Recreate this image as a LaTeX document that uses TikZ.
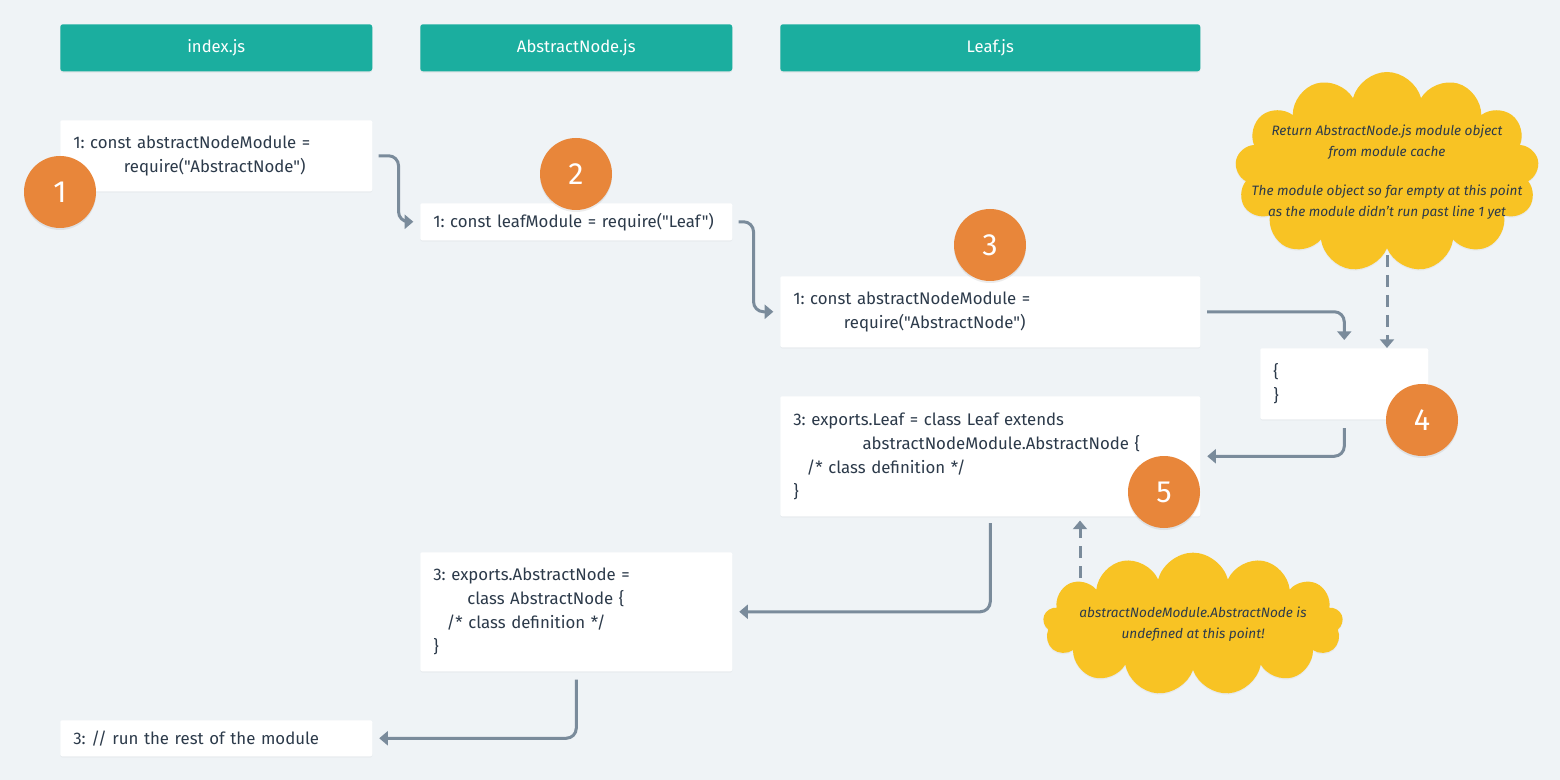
\documentclass[tikz,border=0pt]{standalone}
\usepackage{fontspec}
\setmainfont{Fira Sans}[Ligatures=TeXOff]
\usetikzlibrary{arrows.meta,shapes.symbols,shadows}

\definecolor{bgcol}{RGB}{239,243,246}
\definecolor{tealcol}{RGB}{27,174,159}
\definecolor{orangecol}{RGB}{232,134,58}
\definecolor{yellowcol}{RGB}{248,195,36}
\definecolor{arrowcol}{RGB}{122,139,155}
\definecolor{inkcol}{RGB}{44,58,74}

\begin{document}
\frenchspacing
\begin{tikzpicture}[x=0.75pt,y=-0.75pt]
\tikzset{ >={Triangle[width=10.5pt,length=6.5pt]},
  header/.style={fill=tealcol, text=white, rounded corners=2pt, anchor=north west,
    minimum width=#1, minimum height=35.25pt, inner sep=0pt,
    font=\fontsize{12.5}{14}\selectfont,
    drop shadow={opacity=0.12, shadow xshift=0pt, shadow yshift=-1pt}},
  code/.style 2 args={fill=white, text=inkcol, rounded corners=1.5pt, anchor=north west,
    align=left, text width=#1, minimum height=#2, inner xsep=9.75pt, inner ysep=0pt,
    font=\fontsize{12.6}{18}\selectfont,
    drop shadow={opacity=0.06, shadow xshift=0pt, shadow yshift=-1pt}},
  stepdot/.style={circle, fill=orangecol, text=white, minimum size=54pt, inner sep=0pt,
    font=\fontsize{23}{23}\selectfont,
    drop shadow={opacity=0.15, shadow xshift=0pt, shadow yshift=-1.5pt}},
  note/.style={cloud, cloud puffs=13, cloud ignores aspect, fill=yellowcol, inner sep=0pt,
    drop shadow={opacity=0.08, shadow xshift=0pt, shadow yshift=-1pt}},
  notetext/.style={text=inkcol, align=center, inner sep=0pt,
    font=\itshape\fontsize{10.2}{15.75}\selectfont},
  flow/.style={draw=arrowcol, line width=2.25pt, rounded corners=7.5pt, ->},
  hint/.style={flow, dash pattern=on 9pt off 6pt},
}

\useasboundingbox (0,0) rectangle (1560,780);
\fill [bgcol] (0,0) rectangle (1560,780);

% file columns
\node [header=234pt] (hIndex)    at (60,24)  {index.js};
\node [header=234pt] (hAbstract) at (420,24) {AbstractNode.js};
\node [header=315pt] (hLeaf)     at (780,24) {Leaf.js};

% code lines
\node [code={214.5pt}{53.25pt}] (idxReq) at (60,120)
  {1: const abstractNodeModule =\\\hspace*{38pt}require("AbstractNode")};
\node [code={214.5pt}{27.75pt}] (absReq) at (420,203)
  {1: const leafModule = require("Leaf")};
\node [code={295.5pt}{53.25pt}] (leafReq) at (780,276)
  {1: const abstractNodeModule =\\\hspace*{38pt}require("AbstractNode")};
\node [code={106.5pt}{53.25pt}] (cache) at (1260,348)
  {\{\\\}};
\node [code={295.5pt}{90pt}] (leafClass) at (780,396)
  {3: exports.Leaf = class Leaf extends\\\hspace*{52pt}abstractNodeModule.AbstractNode \{\\\hspace*{10pt}/* class definition */\\\}};
\node [code={214.5pt}{89.25pt}] (absClass) at (420,552)
  {3: exports.AbstractNode =\\\hspace*{25.5pt}class AbstractNode \{\\\hspace*{10pt}/* class definition */\\\}};
\node [code={214.5pt}{27pt}] (idxRest) at (60,720)
  {3: // run the rest of the module};

% notes
\node [note, minimum width=228pt, minimum height=150pt] (cacheNote) at (1387,172) {};
\node [notetext] (cacheText) at (cacheNote.center)
  {Return AbstractNode.js module object\\from module cache\\[13.5pt]The module object so far empty at this point\\as the module didn’t run past line 1 yet};
\node [note, minimum width=225pt, minimum height=107pt] (undefNote) at (1193,624) {};
\node [notetext] (undefText) at (undefNote.center)
  {abstractNodeModule.AbstractNode is\\undefined at this point!};
\coordinate (undefTop) at (1080,578);

% steps
\node [stepdot] (s1) at (60,192)   {1};
\node [stepdot] (s2) at (576,174)  {2};
\node [stepdot] (s3) at (990,245)  {3};
\node [stepdot] (s4) at (1422,420) {4};
\node [stepdot] (s5) at (1164,492) {5};

\draw [flow] ([xshift=4.5pt]idxReq.east) -- ++(20,0) |- ([xshift=-5pt]absReq.west);
\draw [flow] ([xshift=4.5pt]absReq.east) -- ++(15,0) |- ([xshift=-5pt]leafReq.west);
\draw [flow] ([xshift=5pt]leafReq.east) -| ([yshift=6pt]cache.north);
\draw [flow] ([yshift=-6.5pt]cache.south) |- ([xshift=5pt]leafClass.east);
\draw [flow] ([yshift=-5pt]leafClass.south) |- ([xshift=5pt]absClass.east);
\draw [flow] ([yshift=-6pt]absClass.south) |- ([xshift=5pt]idxRest.east);

\draw [hint] ([yshift=-4.5pt]cacheNote.south) -- (cacheNote.south |- cache.north);
\draw [hint] (undefTop) -- ([yshift=-3pt]undefTop |- leafClass.south);

\end{tikzpicture}
\end{document}
